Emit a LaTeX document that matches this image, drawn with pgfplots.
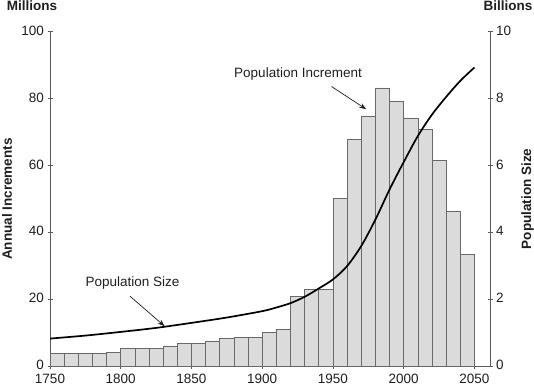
\documentclass[border=0pt]{standalone}
\usepackage{pgfplots}
\pgfplotsset{compat=1.18}
\usepackage{fontspec}
\setmainfont{Liberation Sans}
\usetikzlibrary{arrows.meta}
\definecolor{barfill}{RGB}{219,219,219}
\definecolor{baredge}{RGB}{105,105,105}
\definecolor{axgray}{RGB}{90,90,90}
\definecolor{txt}{RGB}{30,30,30}
\begin{document}
\begin{tikzpicture}
\useasboundingbox (0pt,0pt) rectangle (534pt,387pt);
\pgfplotsset{
  myaxis/.style={
    at={(50pt,21pt)}, anchor=south west,
    scale only axis, width=440pt, height=334.3pt,
    xmin=1750, xmax=2061,
    tick align=outside, major tick length=5pt,
    axis line style={axgray, line width=0.8pt},
    tick style={axgray, line width=0.8pt},
    tick label style={font=\fontsize{13.5}{16}\selectfont, text=txt},
    /pgf/number format/assume math mode=true,
    /pgf/number format/1000 sep={},
  }
}
\begin{axis}[myaxis,
  axis x line=bottom, axis y line=left,
  ymin=0, ymax=100,
  xtick={1750,1800,1850,1900,1950,2000,2050},
  ytick={0,20,40,60,80,100},
  xticklabel style={yshift=-2pt},
  yticklabel style={yshift=1pt},
  x axis line style={-}, y axis line style={-},
  clip=false,
]
\addplot[ybar interval, fill=barfill, draw=baredge, line width=0.7pt] coordinates {
(1750,3.7) (1760,3.7) (1770,3.7) (1780,3.7) (1790,4.1)
(1800,5.3) (1810,5.3) (1820,5.3) (1830,6.0) (1840,6.7)
(1850,6.7) (1860,7.3) (1870,8.2) (1880,8.5) (1890,8.5)
(1900,10.0) (1910,11.0) (1920,20.8) (1930,22.8) (1940,22.8)
(1950,50.1) (1960,67.7) (1970,74.6) (1980,83.2) (1990,79.2)
(2000,74.2) (2010,70.8) (2020,61.4) (2030,46.4) (2040,33.5)
(2050,33.5)
};
\node[font=\fontsize{13.5}{16}\selectfont, text=txt] at (axis cs:1925.3,87.2) {Population Increment};
\draw[-{Stealth[length=7pt,width=5pt]}, txt, line width=0.7pt] (axis cs:1949,83.6) -- (axis cs:1973.5,76.8);
\node[font=\fontsize{13.5}{16}\selectfont, text=txt] at (axis cs:1808.3,24.7) {Population Size};
\draw[-{Stealth[length=7pt,width=5pt]}, txt, line width=0.7pt] (axis cs:1806.5,20.9) -- (axis cs:1831,11.9);
\end{axis}
\begin{axis}[myaxis,
  axis x line=none, axis y line=right,
  ymin=0, ymax=10,
  ytick={0,2,4,6,8,10},
  yticklabel style={yshift=1pt},
  y axis line style={-},
]
\addplot[black, line width=1.7pt, smooth, tension=0.5] coordinates {
(1750,0.82) (1775,0.91) (1800,1.02) (1825,1.14) (1850,1.29) (1875,1.45)
(1900,1.64) (1910,1.75) (1920,1.88) (1930,2.07) (1940,2.32) (1950,2.59)
(1960,2.99) (1970,3.59) (1980,4.38) (1990,5.28) (2000,6.10) (2010,6.88)
(2020,7.52) (2030,8.05) (2040,8.53) (2050,8.93)
};
\end{axis}
\node[font=\bfseries\fontsize{13.5}{16}\selectfont, text=txt, anchor=base] at (32pt,376pt) {Millions};
\node[font=\bfseries\fontsize{13.5}{16}\selectfont, text=txt, anchor=base] at (508pt,376pt) {Billions};
\node[font=\bfseries\fontsize{13.5}{16}\selectfont, text=txt, rotate=90, anchor=base] at (12pt,188pt) {Annual Increments};
\node[font=\bfseries\fontsize{13.5}{16}\selectfont, text=txt, rotate=90, anchor=base] at (531pt,188pt) {Population Size};
\end{tikzpicture}
\end{document}
